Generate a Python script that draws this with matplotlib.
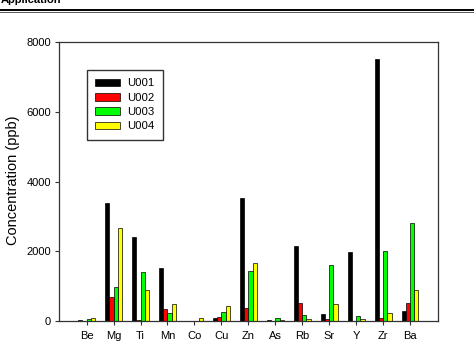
import numpy as np
import matplotlib.pyplot as plt
from matplotlib.lines import Line2D

plt.rcParams["font.family"] = ["Liberation Sans", "DejaVu Sans"]

# Data
elements = ["Be", "Mg", "Ti", "Mn", "Co", "Cu", "Zn", "As", "Rb", "Sr", "Y", "Zr", "Ba"]
u001 = [30, 3390, 2410, 1520, 0, 95, 3535, 30, 2150, 190, 1990, 7520, 290]
u002 = [5, 680, 40, 335, 0, 125, 375, 5, 520, 60, 10, 95, 520]
u003 = [45, 980, 1400, 240, 10, 250, 1440, 75, 175, 1605, 155, 2000, 2815]
u004 = [80, 2660, 885, 500, 85, 430, 1670, 20, 50, 480, 65, 220, 885]

series = [("U001", u001, "#000000"),
          ("U002", u002, "#ff0000"),
          ("U003", u003, "#00ff00"),
          ("U004", u004, "#ffff00")]

fig = plt.figure(figsize=(4.74, 3.56), dpi=100)
ax = fig.add_axes([0.125, 0.0983, 0.798, 0.783])

x = np.arange(len(elements))
w = 0.157
for i, (name, vals, col) in enumerate(series):
    ax.bar(x + (i - 1.5) * w, vals, width=w, color=col, edgecolor="black",
           linewidth=0.5, label=name)

ax.set_xlim(-1.017, 13.02)
ax.set_ylim(0, 8000)
ax.set_yticks([0, 2000, 4000, 6000, 8000])
ax.set_xticks(x)
ax.set_xticklabels(elements)
ax.tick_params(axis="both", direction="out", labelsize=8, width=0.8, color="#333333")
ax.tick_params(axis="x", length=3, pad=4)
ax.tick_params(axis="y", length=3, pad=3)
for s in ax.spines.values():
    s.set_color("#333333")
    s.set_linewidth(0.9)

ax.set_ylabel("Concentration (ppb)", fontsize=10.5)
ax.yaxis.set_label_coords(-0.103, 0.506)

ax.legend(loc="upper left", bbox_to_anchor=(0.0725, 0.901), borderaxespad=0,
          fontsize=8.2, fancybox=False, framealpha=1, edgecolor="#333333",
          handlelength=2.2, handleheight=0.65, labelspacing=0.38,
          handletextpad=0.6, borderpad=0.75)

# page header fragment
fig.text(0.002, 1 - 3 / 356, "Application", fontsize=8, fontweight="bold",
         va="baseline", ha="left")
fig.add_artist(Line2D([0, 1], [1 - 9.5 / 356] * 2, color="black", lw=1.4,
                      transform=fig.transFigure))
fig.add_artist(Line2D([0, 1], [1 - 11.5 / 356] * 2, color="#555555", lw=0.7,
                      transform=fig.transFigure))

fig.savefig("out.png", dpi=100)
